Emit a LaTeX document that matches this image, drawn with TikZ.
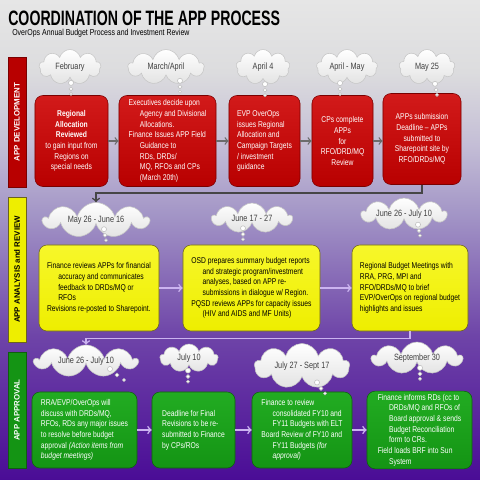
\documentclass[tikz,border=0pt]{standalone}
\usepackage{fontspec}
\setmainfont{Liberation Sans}[FakeStretch=0.8]
\newfontfamily\titlefont{Liberation Sans}[FakeStretch=0.68]
\newfontfamily\barfont{Liberation Sans}
\usepackage{tikz}
\usetikzlibrary{positioning}
\usetikzlibrary{shapes.symbols}
\usetikzlibrary{calc}

\definecolor{bgA}{HTML}{4A0C96}
\definecolor{bgB}{HTML}{6E44A8}
\definecolor{bgC}{HTML}{A294C6}
\definecolor{bgD}{HTML}{C4BED6}
\definecolor{bgE}{HTML}{DCDCDE}
\definecolor{bgF}{HTML}{E6E6E6}
\definecolor{redtop}{HTML}{D21A1A}
\definecolor{redbot}{HTML}{B80000}
\definecolor{redline}{HTML}{7A0000}
\definecolor{yeltop}{HTML}{F7F72A}
\definecolor{yelbot}{HTML}{EEEE00}
\definecolor{yelline}{HTML}{6B6220}
\definecolor{grntop}{HTML}{22AC22}
\definecolor{grnbot}{HTML}{149414}
\definecolor{grnline}{HTML}{0F5F0F}
\definecolor{lavender}{HTML}{CBB3F0}

\pgfdeclareverticalshading{bgshade}{100bp}{color(0bp)=(bgA); color(25bp)=(bgA); color(40bp)=(bgB); color(52.5bp)=(bgC); color(60bp)=(bgD); color(67.5bp)=(bgE); color(75bp)=(bgF); color(100bp)=(bgF)}

\newcommand{\tabin}{\hspace*{8pt}}

\begin{document}
\begin{tikzpicture}[x=0.025cm, y=-0.025cm,
                    bodytext/.style={font=\fontsize{6}{7.6}\selectfont},
                    redbox/.style={rectangle, rounded corners=0.2cm, draw=redline, top color=redtop, bottom color=redbot, text=white, minimum height=2.275cm, inner sep=2pt, bodytext},
                    yellowbox/.style={rectangle, rounded corners=0.2cm, draw=yelline, top color=yeltop, bottom color=yelbot, text=black, minimum height=2.15cm, inner sep=2pt, bodytext},
                    greenbox/.style={rectangle, rounded corners=0.2cm, draw=grnline, top color=grntop, bottom color=grnbot, text=white, minimum height=1.9cm, inner sep=2pt, bodytext},
                    cloudnode/.style={cloud, cloud puffs=9, cloud ignores aspect, draw=gray!45, top color=white, bottom color=gray!22, text=black!75, inner sep=0pt, font=\fontsize{6.5}{7.5}\selectfont},
                    bubble/.style={draw=gray!50, fill=white, thin},
                    sidebar/.style={rectangle, rotate=90, minimum height=0.45cm, inner sep=0pt, font=\barfont\bfseries\fontsize{5.6}{7}\selectfont},
                    arrow_gray/.style={->, draw=gray!85!black, line width=1pt},
                    arrow_lav/.style={->, draw=lavender, line width=1.1pt},
                    link_gray/.style={->, draw=gray!55!black, line width=1.1pt},
                    link_lav/.style={->, draw=lavender, line width=1.1pt},
                ]
    %Background
    \useasboundingbox (0,0) rectangle (480,480);
    \shade[shading=bgshade] (0,0) rectangle (480,480);

    %Title
    \node[anchor=west, inner sep=0pt, font=\titlefont\bfseries\fontsize{14.8}{16}\selectfont] (title) at (8,18) {COORDINATION OF THE APP PROCESS};
    \node[anchor=west, inner sep=0pt, font=\fontsize{6.2}{7}\selectfont] (subtitle) at (12,33) {OverOps Annual Budget Process and Investment Review};

    %Side bars
    \node[sidebar, draw=redline, fill=redbot, text=white, minimum width=3.25cm]    (bar_dev) at (17,122)   {APP DEVELOPMENT};
    \node[sidebar, draw=yelline, fill=yelbot, text=black, minimum width=3.625cm]   (bar_rev) at (17,269.5) {APP ANALYSIS and REVIEW};
    \node[sidebar, draw=grnline, fill=grnbot, text=white, minimum width=2.9cm]     (bar_apr) at (17,410)   {APP APPROVAL};

    %Nodes
    \node[redbox, minimum width=1.825cm, align=center] (dev_1) at (71.5,141)
        {\textbf{Regional}\\\textbf{Allocation}\\\textbf{Reviewed}\\to gain input from\\Regions on\\special needs};
    \node[redbox, minimum width=2.425cm, align=left]   (dev_2) at (167.5,141)
        {Executives decide upon\\\tabin Agency and Divisional\\\tabin Allocations.\\Finance Issues APP Field\\\tabin Guidance to\\\tabin RDs, DRDs/\\\tabin MQ, RFOs and CPs\\\tabin (March 20th)};
    \node[redbox, minimum width=1.775cm, align=left]   (dev_3) at (264.5,141)
        {EVP OverOps\\issues Regional\\Allocation and\\Campaign Targets\\/ investment\\guidance};
    \node[redbox, minimum width=1.525cm, align=center] (dev_4) at (342.5,141)
        {CPs complete\\APPs\\for\\RFO/DRD/MQ\\Review};
    \node[redbox, minimum width=1.95cm, align=center]  (dev_5) at (422,139)
        {APPs submission\\Deadline -- APPs\\submitted to\\Sharepoint site by\\RFO/DRDs/MQ};

    \node[yellowbox, minimum width=3cm, align=left]     (rev_1) at (99,288)
        {Finance reviews APPs for financial\\\tabin accuracy and communicates\\\tabin feedback to DRDs/MQ or\\\tabin RFOs\\Revisions re-posted to Sharepoint.};
    \node[yellowbox, minimum width=3.425cm, align=left] (rev_2) at (251.5,288)
        {OSD prepares summary budget reports\\\tabin and strategic program/investment\\\tabin analyses, based on APP re-\\\tabin submissions in dialogue w/ Region.\\PQSD reviews APPs for capacity issues\\\tabin (HIV and AIDS and MF Units)};
    \node[yellowbox, minimum width=2.9cm, align=left]   (rev_3) at (410,288)
        {Regional Budget Meetings with\\RRA, PRG, MPI and\\RFO/DRDs/MQ to brief\\EVP/OverOps on regional budget\\highlights and issues};

    \node[greenbox, minimum width=2.625cm, align=left] (apr_1) at (84.5,430)
        {RRA/EVP/OverOps will\\discuss with DRDs/MQ,\\RFOs, RDs any major issues\\to resolve before budget\\approval \textit{(Action items from}\\\textit{budget meetings)}};
    \node[greenbox, minimum width=2.075cm, align=left] (apr_2) at (193.5,430)
        {Deadline for Final\\Revisions to be re-\\submitted to Finance\\by CPs/ROs};
    \node[greenbox, minimum width=2.5cm, align=left]   (apr_3) at (302,430)
        {Finance to review\\\tabin consolidated FY10 and\\\tabin FY11 Budgets with ELT\\Board Review of FY10 and\\\tabin FY11 Budgets \textit{(for}\\\tabin \textit{approval)}};
    \node[greenbox, minimum width=2.625cm, align=left] (apr_4) at (419.5,430)
        {Finance informs RDs (cc to\\\tabin DRDs/MQ and RFOs of\\\tabin Board approval \& sends\\\tabin Budget Reconciliation\\\tabin form to CRs.\\Field loads BRF into Sun\\\tabin System};

    %Clouds
    \node[cloudnode, minimum width=1.55cm,  minimum height=0.875cm] (cld_1)  at (70,67)   {February};
    \node[cloudnode, minimum width=1.9cm,   minimum height=0.875cm] (cld_2)  at (166,67)  {March/April};
    \node[cloudnode, minimum width=1.35cm,  minimum height=0.875cm] (cld_3)  at (263,67)  {April 4};
    \node[cloudnode, minimum width=1.525cm, minimum height=0.875cm] (cld_4)  at (347,67)  {April - May};
    \node[cloudnode, minimum width=1.4cm,   minimum height=0.875cm] (cld_5)  at (427,67)  {May 25};
    \node[cloudnode, minimum width=2.625cm, minimum height=0.875cm] (cld_6)  at (96,220)  {May 26 - June 16};
    \node[cloudnode, minimum width=2cm,     minimum height=0.75cm]  (cld_7)  at (252,218) {June 17 - 27};
    \node[cloudnode, minimum width=2.125cm, minimum height=0.8cm]   (cld_8)  at (404,214) {June 26 - July 10};
    \node[cloudnode, minimum width=2.55cm,  minimum height=0.8cm]   (cld_9)  at (86,361)  {June 26 - July 10};
    \node[cloudnode, minimum width=1.45cm,  minimum height=0.7cm]   (cld_10) at (189,358) {July 10};
    \node[cloudnode, minimum width=2.375cm, minimum height=1.125cm] (cld_11) at (302,366) {July 27 - Sept 17};
    \node[cloudnode, minimum width=2.25cm,  minimum height=0.8cm]   (cld_12) at (417,358) {September 30};

    %Thought bubbles
    \foreach \c/\dx/\sx in {cld_1/1/0, cld_2/14/0, cld_3/2/0, cld_4/-7/0, cld_5/8/1, cld_6/8/1,
                            cld_7/-9/0, cld_8/14/1, cld_9/24/7, cld_10/-1/0, cld_11/15/4, cld_12/3/0}{
        \filldraw[bubble] ($(\c.south)+(\dx,5)$) circle (1.8pt);
        \filldraw[bubble] ($(\c.south)+(\dx+\sx,11)$) circle (1.4pt);
        \filldraw[bubble] ($(\c.south)+(\dx+2*\sx,16)$) circle (1.1pt);
    }

    %Lines
    \draw[arrow_gray] (dev_1.east) -- (dev_2.west);
    \draw[arrow_gray] (dev_2.east) -- (dev_3.west);
    \draw[arrow_gray] (dev_3.east) -- (dev_4.west);
    \draw[arrow_gray] (dev_4.east) -- (dev_5.west |- dev_4.east);
    \draw[arrow_lav] (rev_1.east) -- (rev_2.west);
    \draw[arrow_lav] (rev_2.east) -- (rev_3.west);
    \draw[arrow_lav] (apr_1.east) -- (apr_2.west);
    \draw[arrow_lav] (apr_2.east) -- (apr_3.west);
    \draw[arrow_lav] (apr_3.east) -- (apr_4.west);

    \draw[link_gray] (dev_5.south) -- ++(0,8) -| (cld_6.north);
    \draw[link_lav] (rev_3.south) -- ++(0,7) -| (cld_9.north);
\end{tikzpicture}
\end{document}
